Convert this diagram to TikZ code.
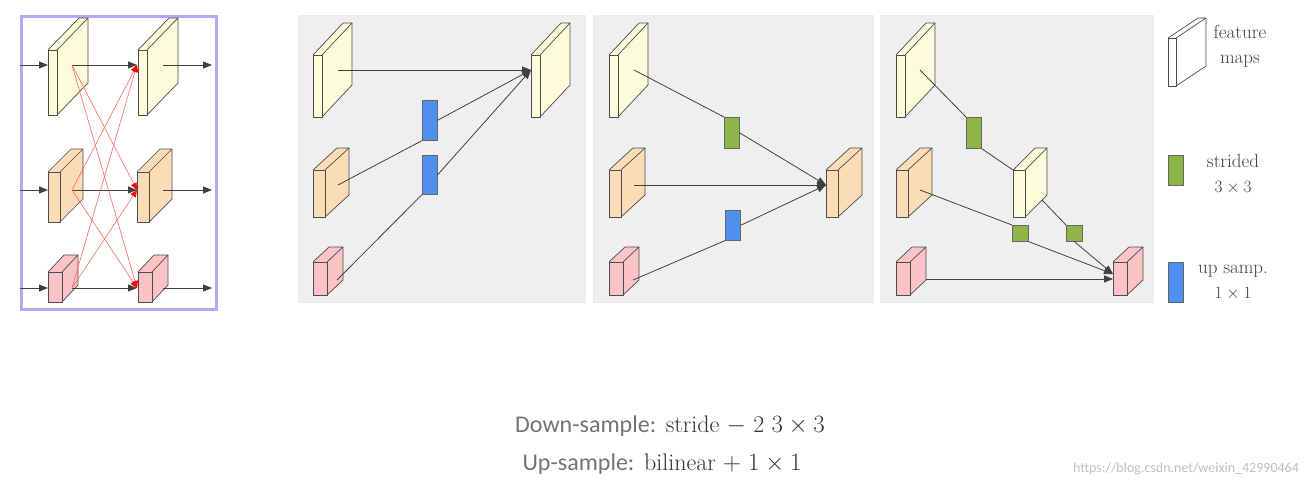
\documentclass[tikz,border=0pt]{standalone}
\usepackage{fontspec}
\setmainfont{Latin Modern Roman}
\newfontfamily\sansf{Carlito}
\usetikzlibrary{arrows.meta}
\definecolor{cy}{HTML}{FDFBD9}
\definecolor{co}{HTML}{FCDCB6}
\definecolor{cp}{HTML}{FCC3C7}
\definecolor{cg}{HTML}{8DB548}
\definecolor{cb}{HTML}{4F8FF0}
\definecolor{bgc}{HTML}{EFEFEF}
\definecolor{pur}{HTML}{B5A8F6}
\tikzset{
 face/.style={draw=black!70,line width=0.7pt,line join=round},
 conn/.style={draw=black!75,line width=0.8pt},
 arr/.style={conn,-{Triangle[length=9pt,width=7pt]}},
 rarr/.style={draw=red!60,line width=0.6pt,-{Triangle[length=7pt,width=6pt,fill=red,color=red]}},
 blk/.style={draw=black!60,line width=0.6pt,inner sep=0pt,minimum width=15pt},
 panel/.style={fill=bgc,draw=black!8},
 leg/.style={font=\fontsize{19}{25}\selectfont,align=center,text=black!75}
}
% \fmap{name}{x}{y}{w}{h}{dx}{dy}{colour}
\newcommand\fmap[8]{%
 \fill[#8] (#2,#3) -- ++(#6,-#7) -- ++(#4,0) -- ++(0,#5) -- ++(-#6,#7) -- ++(-#4,0) -- cycle;
 \draw[face] (#2,#3) -- ++(#6,-#7) -- ++(#4,0) -- ++(-#6,#7);
 \draw[face] ({#2+#4+#6},{#3-#7}) -- ++(0,#5) -- ++(-#6,#7);
 \node[face,fill=#8,inner sep=0pt,minimum width=#4pt,minimum height=#5pt,anchor=north west] (#1) at (#2,#3) {};
 \coordinate (#1-s) at ({#2+#4+#6/2},{#3+#5/2-#7/2});
}
\newcommand\yel[3]{\fmap{#1}{#2}{#3}{9}{62}{30}{32}{cy}}
\newcommand\ora[3]{\fmap{#1}{#2}{#3}{12}{47}{24}{22}{co}}
\newcommand\pin[3]{\fmap{#1}{#2}{#3}{14}{33}{16}{15}{cp}}
\begin{document}
\begin{tikzpicture}[x=1pt,y=-1pt]
\useasboundingbox (0,0) rectangle (1305,487);
% ---------- left panel
\node[draw=pur,line width=3pt,fill=white,minimum width=195pt,minimum height=293pt,anchor=north west] (lp) at (20,15) {};
\fmap{a1}{48}{50}{9}{65}{31}{32}{cy}
\fmap{a2}{48}{172}{12}{50}{23}{23}{co}
\fmap{a3}{48}{272}{14}{30}{16}{17}{cp}
\fmap{b1}{138}{50}{9}{65}{31}{32}{cy}
\fmap{b2}{137}{172}{12}{50}{23}{23}{co}
\fmap{b3}{138}{272}{14}{30}{16}{17}{cp}
\foreach \r/\y in {1/65,2/190,3/288}{
 \coordinate (in\r) at (20,\y);
 \coordinate (out\r) at (212,\y);
 \coordinate (ac\r) at (72,\y);
 \coordinate (bc\r) at (163,\y);
 \coordinate (bf\r) at (137,\y);
 \coordinate (af\r) at (48,\y);
 \draw[arr] (in\r) -- (af\r);
 \draw[arr] (ac\r) -- (bf\r);
 \draw[arr] (bc\r) -- (out\r);
}
\foreach \i/\j in {1/2,1/3,2/1,2/3,3/1,3/2}{
 \draw[rarr] (ac\i) -- (bf\j);
}
% ---------- panel 2
\node[panel,minimum width=287pt,minimum height=287pt,anchor=north west] (p2) at (298,15) {};
\yel{c1}{313}{55}
\ora{c2}{313}{170}
\pin{c3}{313}{262}
\yel{c4}{531}{55}
\node[blk,fill=cb,minimum height=40pt,anchor=north west] (u1) at (422,100) {};
\node[blk,fill=cb,minimum height=39pt,anchor=north west] (u2) at (422,155) {};
\coordinate (c1c) at (338,70);
\coordinate (c2c) at (338,185);
\coordinate (c3c) at (337,280);
\coordinate (c4f) at (531,70);
\draw[arr] (c1c) -- (c4f);
\draw[conn] (c2c) -- (u1.south west);
\draw[arr] (u1.east) -- (c4f);
\draw[conn] (c3c) -- (u2.south west);
\draw[arr] (u2.east) -- (c4f);
% ---------- panel 3
\node[panel,minimum width=280pt,minimum height=287pt,anchor=north west] (p3) at (593,15) {};
\yel{d1}{609}{55}
\ora{d2}{609}{170}
\pin{d3}{609}{262}
\ora{d4}{826}{170}
\node[blk,fill=cg,minimum height=31pt,anchor=north west] (g1) at (724,117) {};
\node[blk,fill=cb,minimum height=30pt,anchor=north west] (u3) at (725,210) {};
\coordinate (d1c) at (634,70);
\coordinate (d2c) at (634,185);
\coordinate (d3c) at (633,280);
\coordinate (d4f) at (826,185);
\draw[conn] (d1c) -- (g1.north west);
\draw[arr] (g1.east) -- (d4f);
\draw[arr] (d2c) -- (d4f);
\draw[conn] (d3c) -- (u3.south west);
\draw[arr] (u3.east) -- (d4f);
% ---------- panel 4
\node[panel,minimum width=273pt,minimum height=287pt,anchor=north west] (p4) at (880,15) {};
\yel{e1}{896}{55}
\ora{e2}{896}{170}
\pin{e3}{896}{262}
\fmap{e4}{1013}{170}{12}{47}{22}{22}{cy}
\pin{e5}{1113}{262}
\node[blk,fill=cg,minimum height=31pt,anchor=north west] (g2) at (966,117) {};
\node[blk,fill=cg,minimum width=16pt,minimum height=16pt,anchor=north west] (g3) at (1012,225) {};
\node[blk,fill=cg,minimum width=16pt,minimum height=16pt,anchor=north west] (g4) at (1066,225) {};
\coordinate (e1c) at (920,70);
\coordinate (e2c) at (920,190);
\coordinate (e3c) at (926,279);
\coordinate (e4c) at (1042,200);
\coordinate (e5f) at (1113,274);
\coordinate (e5g) at (1113,279);
\draw[conn] (e1c) -- (g2.north west);
\draw[conn] (g2.south east) -- (e4.north west);
\draw[conn] (e2c) -- (g3.north west);
\draw[arr] (g3.south east) -- (e5f);
\draw[conn] (e4c) -- (g4.north west);
\draw[arr] (g4.south) -- (e5f);
\draw[arr] (e3c) -- (e5g);
% ---------- legend
\fmap{lf}{1168}{38}{8}{48}{30}{20}{white}
\node[blk,fill=cg,minimum height=30pt,anchor=north west] (lg) at (1168,155) {};
\node[blk,fill=cb,minimum height=40pt,anchor=north west] (lb) at (1168,262) {};
\node[leg] (tf) at (1240,46) {feature\\maps};
\node[leg] (tg) at (1233,174) {strided\\$3\times 3$};
\node[leg] (tb) at (1233,283) {up samp.\\$1\times 1$};
% ---------- caption
\node[anchor=base,font=\fontsize{24}{28}\selectfont,text=black!80] (cap1) at (670,432) {{\sansf\color{black!55}Down-sample:} stride $-$ 2 $3\times 3$};
\node[anchor=base,font=\fontsize{24}{28}\selectfont,text=black!80] (cap2) at (662,470) {{\sansf\color{black!55}Up-sample:} bilinear $+$ $1\times 1$};
\node[anchor=base,font=\sansf\fontsize{14}{16}\selectfont,text=black!25] (wm) at (1186,472) {https://blog.csdn.net/weixin\_42990464};
\end{tikzpicture}
\end{document}
